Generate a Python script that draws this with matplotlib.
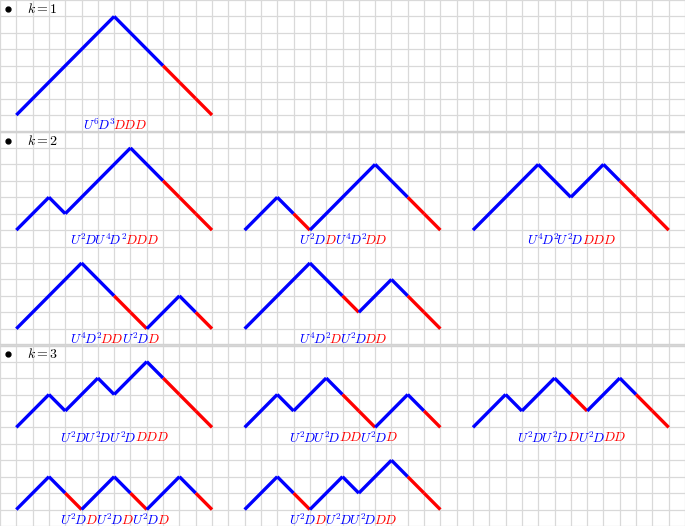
import matplotlib
matplotlib.use("Agg")
import matplotlib.pyplot as plt

plt.rcParams['mathtext.fontset'] = 'cm'

# words: upper case = blue step, lower case = red step, digit = exponent
words_k1 = ["U6 D3 d d d"]
words_k2 = ["U2 D U4 D2 d d d", "U2 D d U4 D2 d d", "U4 D2 U2 D d d d",
            "U4 D2 d d U2 D d", "U4 D2 d U2 D d d"]
words_k3 = ["U2 D U2 D U2 D d d d", "U2 D U2 D d d U2 D d", "U2 D U2 D d U2 D d d",
            "U2 D d U2 D d U2 D d", "U2 D d U2 D U2 D d d"]
k_labels = ["1", "2", "3"]

blue, red = "#0000ff", "#ff0000"
FS = 9.5

# layout: section top rows, baselines of the rows of paths, column starts
sections = [(0, [7], words_k1), (8, [14, 20], words_k2), (21, [26, 31], words_k3)]
col_x = [1, 15, 29]

fig = plt.figure(figsize=(6.85, 5.26), dpi=100)
ax = fig.add_axes([0, 0, 1, 1])
ax.set_xlim(0, 42)
ax.set_ylim(32, 0)
ax.axis('off')
renderer = fig.canvas.get_renderer()

for i in range(43):
    ax.axvline(i, color='#d9d9d9', lw=0.9, zorder=0)
for j in range(33):
    ax.axhline(j, color='#d9d9d9', lw=0.9, zorder=0)
for j in [8, 21]:
    ax.axhline(j - 0.05, color='#d2d2d2', lw=1.0, zorder=0)
    ax.axhline(j + 0.05, color='#d2d2d2', lw=1.0, zorder=0)


def parse(word):
    toks = []
    for t in word.split():
        n = int(t[1:]) if len(t) > 1 else 1
        toks.append((t[0].upper(), n, red if t[0].islower() else blue))
    return toks


def text_width(s):
    t = ax.text(0, 0, '$%s$' % s, fontsize=FS)
    w = t.get_window_extent(renderer).width
    t.remove()
    return w


def advance(s):
    # width of s without the box padding, via a trailing reference glyph
    if not s:
        return 0.0
    return text_width(s + 'D') - text_width('D')


def draw_word(word, x0, base):
    toks = parse(word)
    x, h = x0, 0
    for letter, n, c in toks:
        dh = n if letter == 'U' else -n
        ax.plot([x, x + n], [base - h, base - h - dh], color=c, lw=2.4,
                solid_joinstyle='miter', solid_capstyle='butt', zorder=3)
        x += n
        h += dh
    # label, grouped by colour, placed piece by piece
    pieces = []
    for letter, n, c in toks:
        s = letter if n == 1 else letter + r'^{%d}\!' % n
        if pieces and pieces[-1][1] == c:
            pieces[-1][0] += s
        else:
            pieces.append([s, c])
    full = ''.join(p[0] for p in pieces)
    W = advance(full)
    prefix = ''
    for s, c in pieces:
        off = (advance(prefix) - W / 2) * 72 / 100
        ax.annotate('$%s$' % s, ((x0 + x) / 2, base + 0.55), xytext=(off, 0),
                    textcoords='offset points', color=c, fontsize=FS,
                    ha='left', va='center_baseline')
        prefix += s


for (top, bases, words), kl in zip(sections, k_labels):
    ax.plot(0.5, top + 0.55, 'o', color='black', ms=3.5)
    ax.text(1.65, top + 0.55, '$k = %s$' % kl, fontsize=10, va='center', ha='left')
    for idx, w in enumerate(words):
        r, cidx = divmod(idx, 3)
        draw_word(w, col_x[cidx], bases[r])

fig.savefig("out.png", dpi=100)
